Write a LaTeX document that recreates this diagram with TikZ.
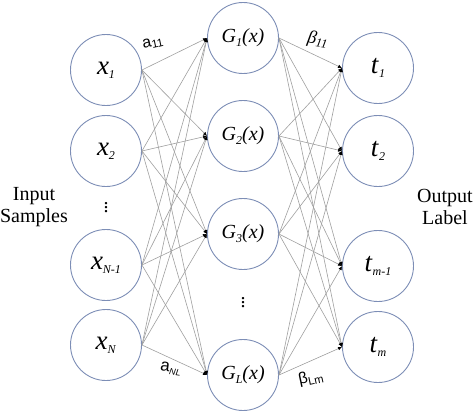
\documentclass[tikz,border=0pt]{standalone}
\usepackage{fontspec}
\setmainfont{Liberation Serif}
\setsansfont{Liberation Sans}
\usetikzlibrary{arrows.meta}
\definecolor{ringblue}{HTML}{7D8EB6}
\newcommand{\sub}[2]{\textit{#1}\raisebox{-0.35ex}{\fontsize{12}{12}\selectfont\textit{#2}}}
\tikzset{
  neuron/.style={circle,draw=ringblue,line width=0.9pt,minimum size=71pt,inner sep=0pt},
  link/.style={gray!75,line width=0.6pt,-{Latex[length=4pt,width=3.5pt,black]}},
  wlab/.style={inner sep=1pt},
  vdot/.style={font=\fontsize{20}{20}\selectfont,inner sep=0pt}
}
\begin{document}
\begin{tikzpicture}[x=1pt,y=-1pt]
\useasboundingbox (0,0) rectangle (474,415);
% input layer
\foreach \n/\y/\s in {1/70/1,2/151/2,3/265/{N-1},4/345/N}{
  \node[neuron,font=\fontsize{27}{27}\selectfont] (x\n) at (106,\y) {\sub{x}{\s}};}
% hidden layer
\foreach \n/\y/\s in {1/38/1,2/136/2,3/234/3,4/375/L}{
  \node[neuron,font=\fontsize{20}{20}\selectfont] (g\n) at (243,\y) {\sub{G}{\s}\textit{(x)}};}
% output layer
\foreach \n/\y/\s in {1/68/1,2/151/2,3/266/{m-1},4/347/m}{
  \node[neuron,font=\fontsize{27}{27}\selectfont] (t\n) at (378,\y) {\sub{t}{\s}};}
\node[vdot] (xdots) at (106,205) {$\vdots$};
\node[vdot] (gdots) at (243,300) {$\vdots$};
% connections
\foreach \i in {1,...,4}{
  \foreach \j in {1,...,4}{
    \draw[link] (x\i.east) -- (g\j.west);
    \draw[link] (g\i.east) -- (t\j.west);}}
% weights
\node[wlab,font=\sffamily\fontsize{16}{16}\selectfont,rotate=12] (a11) at (153,43) {a\textsubscript{11}};
\node[wlab,font=\sffamily\fontsize{17}{17}\selectfont,rotate=-8] (anl) at (171,369) {a\textsubscript{\fontsize{9}{9}\selectfont\textit{NL}}};
\node[wlab,font=\fontsize{18}{18}\selectfont,rotate=-10] (b11) at (318,40) {\textit{β}\textsubscript{\textit{11}}};
\node[wlab,font=\sffamily\fontsize{16}{16}\selectfont,rotate=12] (blm) at (311,378) {β\textsubscript{Lm}};
% layer names
\node[align=center,font=\fontsize{20}{22}\selectfont] (inlab) at (34,207) {Input\\Samples};
\node[align=center,font=\fontsize{20}{22}\selectfont] (outlab) at (445,207) {Output\\Label};
\end{tikzpicture}
\end{document}
